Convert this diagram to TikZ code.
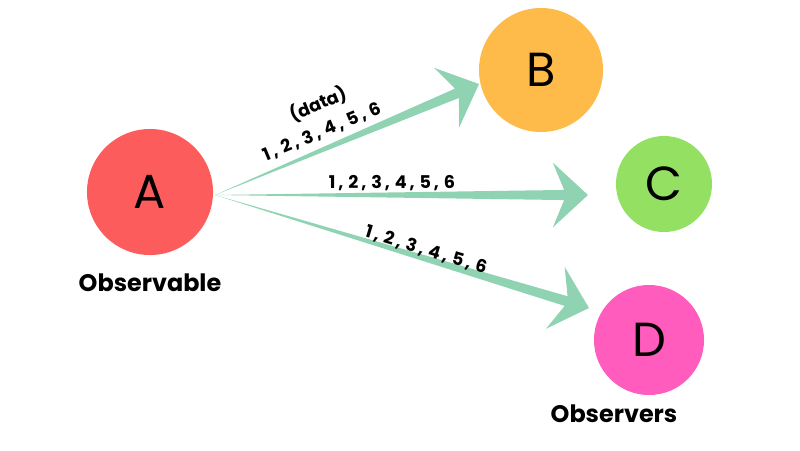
\documentclass[tikz,border=0pt]{standalone}
\usepackage{fontspec}
\setmainfont{Poppins}
\usetikzlibrary{calc}
\definecolor{colA}{HTML}{FC5C5C}
\definecolor{colB}{HTML}{FFBB4A}
\definecolor{colC}{HTML}{93E063}
\definecolor{colD}{HTML}{FF5CBE}
\definecolor{flow}{HTML}{8FD3B2}
\tikzset{
    peer/.style={circle, inner sep=0pt, text=black, font=\fontsize{34}{34}\selectfont},
    tag/.style={font=\bfseries\fontsize{12.5}{13}\selectfont, inner sep=1pt},
    caption/.style={font=\bfseries\fontsize{17}{19}\selectfont}
}
\newcommand{\seq}{1\,,\;2\,,\;3\,,\;4\,,\;5\,,\;6}
\newcommand{\flowarrow}[2]{%
    \path let \p1=($(#2)-(#1)$), \n1={atan2(\y1,\x1)}, \n2={veclen(\x1,\y1)} in
        [fill=flow, shift={(#1)}, rotate=\n1]
        (0pt,0pt) -- ({\n2-17pt},-3.6pt) -- ({\n2-25pt},-23pt) -- (\n2,0pt)
        -- ({\n2-25pt},23pt) -- ({\n2-17pt},3.6pt) -- cycle;}
\begin{document}
\begin{tikzpicture}[x=0.025cm, y=-0.025cm]
    \useasboundingbox (0,0) rectangle (800,450);

    % Circles
    \node[peer, fill=colA, minimum size=3.15cm] (A) at (150,192) {A};
    \node[peer, fill=colB, minimum size=3.1cm] (B) at (541,70) {B};
    \node[peer, fill=colC, minimum size=2.4cm] (C) at (664,184) {C};
    \node[peer, fill=colD, minimum size=2.75cm] (D) at (649,340) {D};

    % Arrow ends
    \coordinate (src) at (215,195);
    \coordinate (tipB) at (479,84);
    \coordinate (tipC) at (588,195);
    \coordinate (tipD) at (589,308);

    % Arrows
    \flowarrow{src}{tipB}
    \flowarrow{src}{tipC}
    \flowarrow{src}{tipD}

    % Labels
    \node[tag, rotate=22.7] (lB) at (322,132) {\seq};
    \node[tag, rotate=22.7] (data) at (318,104) {(data)};
    \node[tag] (lC) at (392,183) {\seq};
    \node[tag, rotate=-16.9] (lD) at (426,250) {\seq};

    \node[caption] (obs) at (150,283) {Observable};
    \node[caption] (obsr) at (614,414) {Observers};
\end{tikzpicture}
\end{document}
